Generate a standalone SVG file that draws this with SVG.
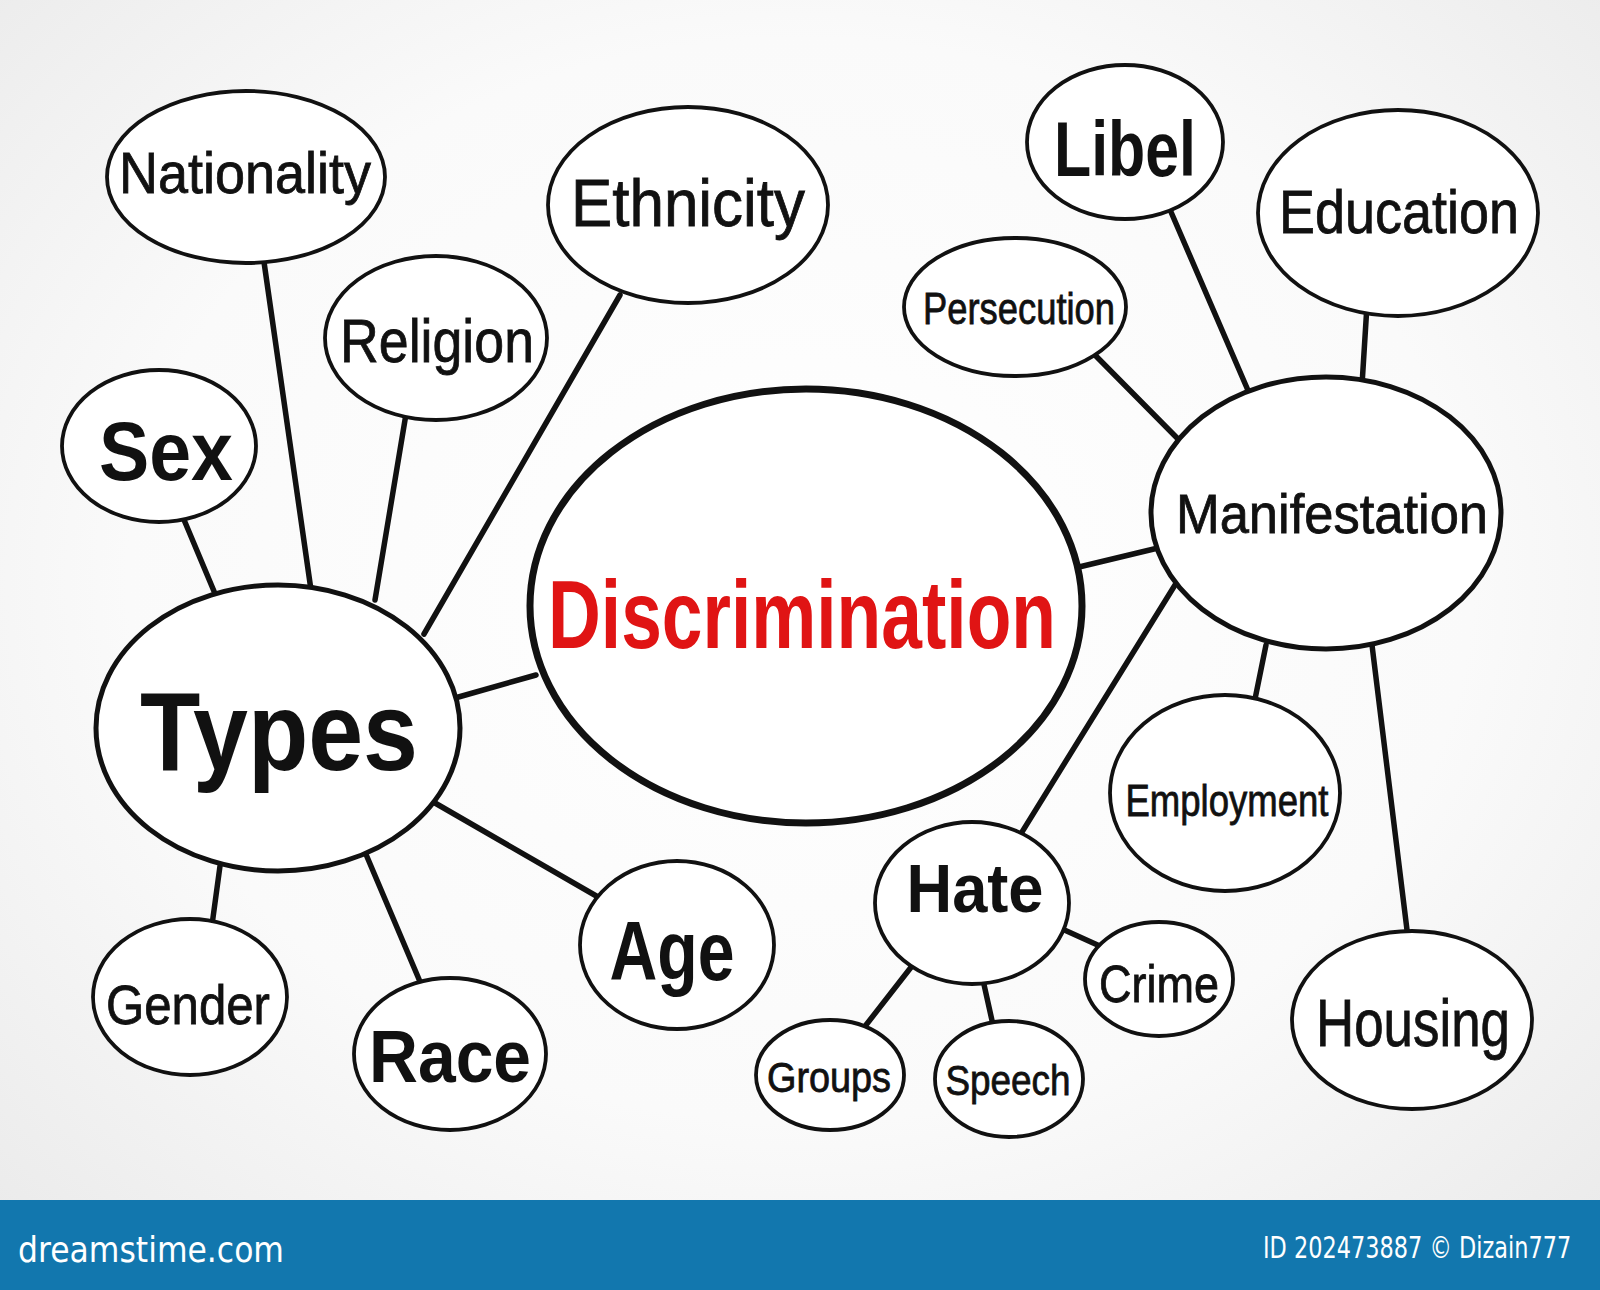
<svg xmlns="http://www.w3.org/2000/svg" width="1600" height="1290" viewBox="0 0 1600 1290">
<defs>
<radialGradient id="bg" cx="50%" cy="45%" r="70%">
<stop offset="0" stop-color="#ffffff"/>
<stop offset="0.6" stop-color="#fafafa"/>
<stop offset="1" stop-color="#ebebeb"/>
</radialGradient>
<style>
.n{fill:#ffffff;stroke:#111111;stroke-width:3.8}
.nb{fill:#ffffff;stroke:#111111;stroke-width:5}
.c{stroke:#111111;stroke-width:5.5;stroke-linecap:round;fill:none}
.t{font-family:"Liberation Sans","DejaVu Sans",sans-serif;font-weight:bold;fill:#111111}
.ts{font-family:"Liberation Sans","DejaVu Sans",sans-serif;font-weight:normal;fill:#111111;stroke:#111111;stroke-width:0.8}
.wm{font-family:"DejaVu Sans",sans-serif;fill:#ffffff}
</style>
</defs>
<rect x="0" y="0" width="1600" height="1290" fill="url(#bg)"/>

<g id="connectors">
<line class="c" x1="263" y1="255" x2="311" y2="590"/>
<line class="c" x1="182" y1="515" x2="216" y2="596"/>
<line class="c" x1="406" y1="414" x2="375" y2="600"/>
<line class="c" x1="620" y1="295" x2="424" y2="634"/>
<line class="c" x1="455" y1="698" x2="536" y2="675"/>
<line class="c" x1="435" y1="803" x2="605" y2="901"/>
<line class="c" x1="220" y1="866" x2="212" y2="925"/>
<line class="c" x1="365" y1="852" x2="421" y2="984"/>
<line class="c" x1="1079" y1="567" x2="1158" y2="548"/>
<line class="c" x1="1092" y1="352" x2="1180" y2="441"/>
<line class="c" x1="1168" y1="205" x2="1250" y2="395"/>
<line class="c" x1="1367" y1="305" x2="1362" y2="385"/>
<line class="c" x1="1175" y1="585" x2="1017" y2="840"/>
<line class="c" x1="1266" y1="645" x2="1254" y2="704"/>
<line class="c" x1="1372" y1="645" x2="1408" y2="938"/>
<line class="c" x1="1060" y1="928" x2="1102" y2="947"/>
<line class="c" x1="912" y1="966" x2="866" y2="1025"/>
<line class="c" x1="983" y1="980" x2="993" y2="1025"/>
</g>

<g id="node-discrimination">
<ellipse cx="806" cy="606" rx="276" ry="217" fill="#ffffff" stroke="#111111" stroke-width="7"/>
<text class="t" x="802" y="648" font-size="96" style="fill:#e01414" text-anchor="middle" textLength="508" lengthAdjust="spacingAndGlyphs">Discrimination</text>
</g>

<g id="node-types">
<ellipse class="nb" cx="278" cy="728" rx="182" ry="143"/>
<text class="t" x="279" y="770" font-size="112" text-anchor="middle" textLength="278" lengthAdjust="spacingAndGlyphs">Types</text>
</g>

<g id="node-nationality">
<ellipse class="n" cx="246" cy="177" rx="139" ry="86"/>
<text class="ts" x="245" y="193" font-size="58" text-anchor="middle" textLength="252" lengthAdjust="spacingAndGlyphs">Nationality</text>
</g>

<g id="node-ethnicity">
<ellipse class="n" cx="688" cy="205" rx="140" ry="98"/>
<text class="ts" x="688" y="226" font-size="66" text-anchor="middle" textLength="234" lengthAdjust="spacingAndGlyphs">Ethnicity</text>
</g>

<g id="node-religion">
<ellipse class="n" cx="436" cy="338" rx="111" ry="82"/>
<text class="ts" x="437" y="362" font-size="62" text-anchor="middle" textLength="194" lengthAdjust="spacingAndGlyphs">Religion</text>
</g>

<g id="node-sex">
<ellipse class="n" cx="159" cy="446" rx="97" ry="76"/>
<text class="t" x="166" y="480" font-size="84" text-anchor="middle" textLength="134" lengthAdjust="spacingAndGlyphs">Sex</text>
</g>

<g id="node-gender">
<ellipse class="n" cx="190" cy="997" rx="97" ry="78"/>
<text class="ts" x="188" y="1024" font-size="56" text-anchor="middle" textLength="164" lengthAdjust="spacingAndGlyphs">Gender</text>
</g>

<g id="node-race">
<ellipse class="n" cx="450" cy="1054" rx="96" ry="76"/>
<text class="t" x="450" y="1082" font-size="74" text-anchor="middle" textLength="162" lengthAdjust="spacingAndGlyphs">Race</text>
</g>

<g id="node-age">
<ellipse class="n" cx="677" cy="945" rx="97" ry="84"/>
<text class="t" x="672" y="980" font-size="84" text-anchor="middle" textLength="125" lengthAdjust="spacingAndGlyphs">Age</text>
</g>

<g id="node-libel">
<ellipse class="n" cx="1125" cy="142" rx="98" ry="77"/>
<text class="t" x="1125" y="176" font-size="78" text-anchor="middle" textLength="142" lengthAdjust="spacingAndGlyphs">Libel</text>
</g>

<g id="node-education">
<ellipse class="n" cx="1398" cy="213" rx="140" ry="103"/>
<text class="ts" x="1399" y="233" font-size="62" text-anchor="middle" textLength="240" lengthAdjust="spacingAndGlyphs">Education</text>
</g>

<g id="node-persecution">
<ellipse class="n" cx="1015" cy="307" rx="111" ry="69"/>
<text class="ts" x="1019" y="324" font-size="44" text-anchor="middle" textLength="192" lengthAdjust="spacingAndGlyphs">Persecution</text>
</g>

<g id="node-manifestation">
<ellipse class="nb" cx="1326" cy="513" rx="175" ry="136"/>
<text class="ts" x="1332" y="533" font-size="55" text-anchor="middle" textLength="312" lengthAdjust="spacingAndGlyphs">Manifestation</text>
</g>

<g id="node-employment">
<ellipse class="n" cx="1225" cy="793" rx="115" ry="98"/>
<text class="ts" x="1227" y="816" font-size="44" text-anchor="middle" textLength="203" lengthAdjust="spacingAndGlyphs">Employment</text>
</g>

<g id="node-hate">
<ellipse class="n" cx="972" cy="903" rx="97" ry="81"/>
<text class="t" x="975" y="912" font-size="68" text-anchor="middle" textLength="137" lengthAdjust="spacingAndGlyphs">Hate</text>
</g>

<g id="node-crime">
<ellipse class="n" cx="1159" cy="979" rx="74" ry="57"/>
<text class="ts" x="1159" y="1002" font-size="52" text-anchor="middle" textLength="120" lengthAdjust="spacingAndGlyphs">Crime</text>
</g>

<g id="node-groups">
<ellipse class="n" cx="830" cy="1075" rx="74" ry="55"/>
<text class="ts" x="829" y="1092" font-size="42" text-anchor="middle" textLength="124" lengthAdjust="spacingAndGlyphs">Groups</text>
</g>

<g id="node-speech">
<ellipse class="n" cx="1009" cy="1079" rx="74" ry="58"/>
<text class="ts" x="1008" y="1095" font-size="42" text-anchor="middle" textLength="125" lengthAdjust="spacingAndGlyphs">Speech</text>
</g>

<g id="node-housing">
<ellipse class="n" cx="1412" cy="1020" rx="120" ry="89"/>
<text class="ts" x="1413" y="1046" font-size="66" text-anchor="middle" textLength="194" lengthAdjust="spacingAndGlyphs">Housing</text>
</g>

<g id="footer">
<rect x="0" y="1200" width="1600" height="90" fill="#1277ae"/>
<text class="wm" x="18" y="1262" font-size="36" textLength="266" lengthAdjust="spacingAndGlyphs">dreamstime.com</text>
<g transform="translate(1263,1258) scale(0.72,1)">
<text class="wm" x="0" y="0" font-size="30" textLength="428" lengthAdjust="spacingAndGlyphs">ID 202473887 © Dizain777</text>
</g>
</g>
</svg>
